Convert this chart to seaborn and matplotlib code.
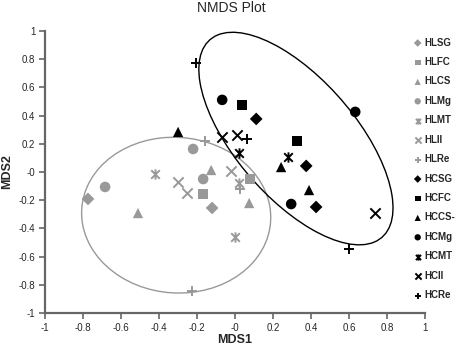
import numpy as np
import seaborn as sns
import matplotlib.pyplot as plt
from matplotlib.path import Path
from matplotlib.patches import Ellipse

groups = ["HLSG", "HLFC", "HLCS", "HLMg", "HLMT", "HLII", "HLRe",
          "HCSG", "HCFC", "HCCS-", "HCMg", "HCMT", "HCII", "HCRe"]

mds1 = [[-0.774, -0.121], [-0.168, 0.079], [-0.511, -0.126, 0.074],
        [-0.684, -0.221, -0.168], [-0.421, 0.021, 0.0], [-0.300, -0.253, -0.021],
        [-0.158, 0.026, -0.226],
        [0.111, 0.374, 0.426], [0.037, 0.326], [-0.300, 0.242, 0.389],
        [-0.068, 0.632, 0.295], [0.021, 0.279], [-0.068, 0.011, 0.737],
        [-0.205, 0.063, 0.600]]
mds2 = [[-0.191, -0.255], [-0.156, -0.050], [-0.291, 0.014, -0.220],
        [-0.106, 0.163, -0.050], [-0.014, -0.078, -0.461], [-0.071, -0.149, 0.007],
        [0.220, -0.121, -0.844],
        [0.376, 0.043, -0.248], [0.475, 0.220], [0.284, 0.035, -0.128],
        [0.511, 0.426, -0.227], [0.135, 0.106], [0.248, 0.262, -0.291],
        [0.773, 0.234, -0.546]]

# group ellipses: centre x, centre y, width, height, angle
ellipse_hl = (-0.310, -0.306, 1.106, 0.993, -82.2)
ellipse_hc = (0.320, 0.237, 0.693, 1.683, -150.7)

sns.set_style("white")
plt.rcParams['font.family'] = ['Liberation Sans', 'DejaVu Sans']

fig = plt.figure(figsize=(4.74, 3.51), dpi=100)
ax = fig.add_axes([0.095, 0.108, 0.802, 0.804])

# excel-style star marker (x with a vertical stroke)
star = Path([(-1, -1), (1, 1), (-1, 1), (1, -1), (0, -1.2), (0, 1.2)],
            [Path.MOVETO, Path.LINETO, Path.MOVETO, Path.LINETO, Path.MOVETO, Path.LINETO])
markers = ["D", "s", "^", "o", star, "x", "+"] * 2
colors = ["#999999"] * 7 + ["black"] * 7

for g, xs, ys, m, c in zip(groups, mds1, mds2, markers, colors):
    filled = isinstance(m, str) and m in ("D", "s", "^", "o")
    size = {"D": 42, "s": 48, "^": 55, "o": 58}.get(m, 55) if filled else 55
    sns.scatterplot(x=xs, y=ys, marker=m, color=c, s=size, ax=ax, label=g,
                    linewidth=0 if filled else 1.4,
                    edgecolor="none" if filled else None, zorder=3)

for (cx, cy, w, h, a), col in [(ellipse_hl, "#999999"), (ellipse_hc, "black")]:
    ax.add_patch(Ellipse((cx, cy), w, h, angle=a, fill=False, ec=col, lw=1.0))

ax.set_xlim(-1, 1)
ax.set_ylim(-1, 1)
ticks = np.round(np.arange(-1, 1.01, 0.2), 1)
ax.set_xticks(ticks)
ax.set_yticks(ticks)
ax.set_xticklabels(["%g" % t for t in ticks])
ax.set_yticklabels(["%g" % t for t in ticks])
for s in ["top", "right"]:
    ax.spines[s].set_visible(False)
for s in ["left", "bottom"]:
    ax.spines[s].set_color("#666666")
    ax.spines[s].set_linewidth(1.6)
ax.tick_params(direction="out", length=4, width=1.2, color="#666666",
               labelsize=7, pad=3, left=True, bottom=True)

fig.text(0.489, 0.977, "NMDS Plot", ha="center", va="center", fontsize=10)
fig.text(0.494, 0.031, "MDS1", ha="center", va="center", fontsize=9, fontweight="bold")
fig.text(0.016, 0.51, "MDS2", ha="center", va="center", fontsize=9, fontweight="bold",
         rotation=90)

ax.legend(loc="upper left", bbox_to_anchor=(0.873, 0.893), bbox_transform=fig.transFigure,
          frameon=False, markerscale=0.6, handlelength=0.8, handletextpad=0.3,
          labelspacing=0.97, borderpad=0, borderaxespad=0,
          prop={"weight": "bold", "size": 7})

fig.savefig("out.png", dpi=100)
